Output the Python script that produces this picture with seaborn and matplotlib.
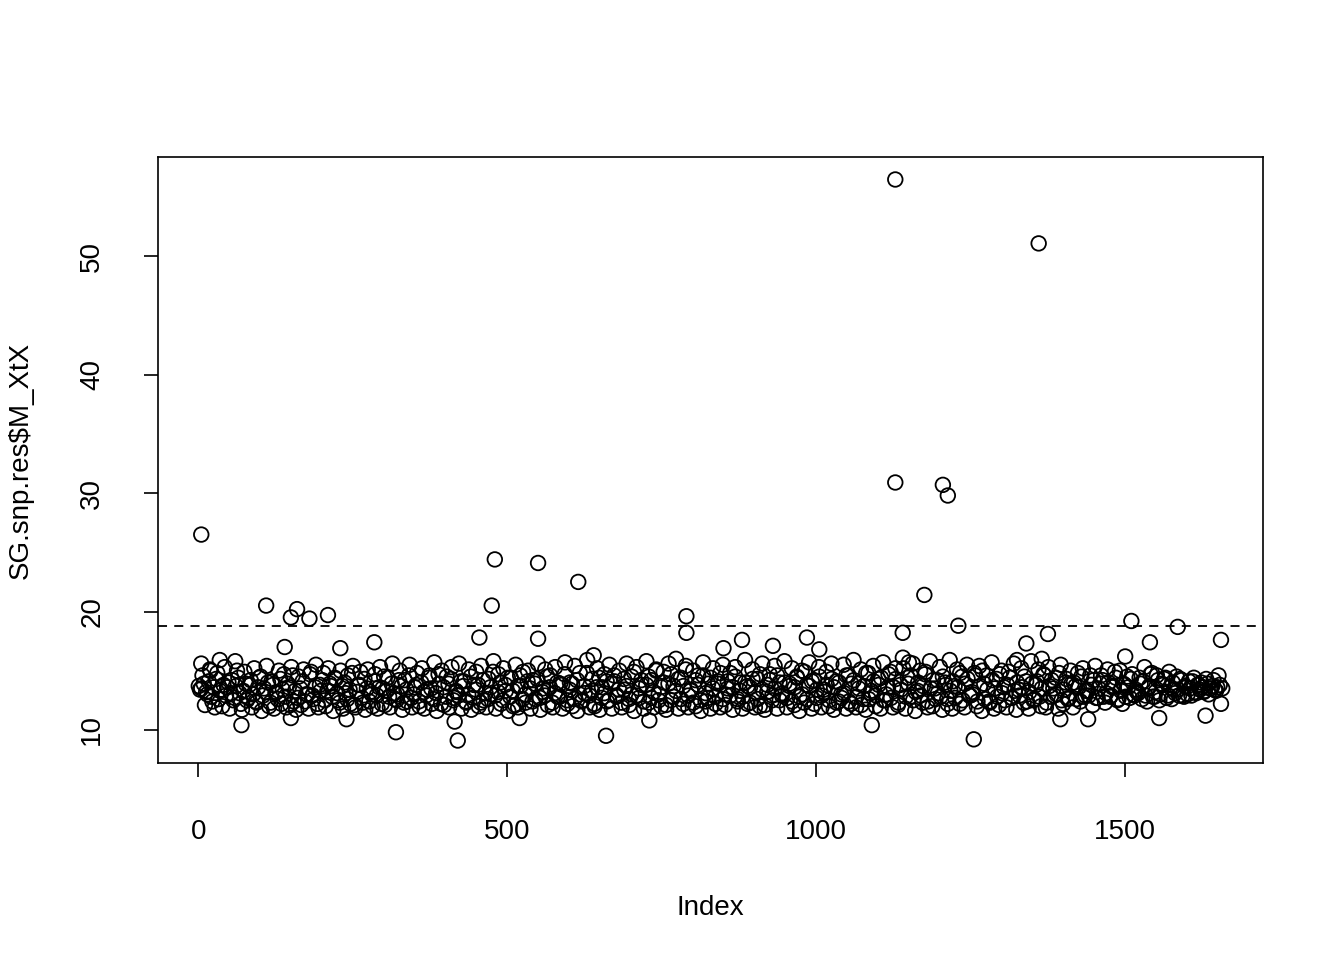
import numpy as np
import pandas as pd
import matplotlib
matplotlib.use("Agg")
import matplotlib.pyplot as plt
import seaborn as sns

# notable points
out_idx = [5,5,110,160,150,180,210,70,320,420,480,475,550,615,660,790,790,1128,1128,1360,1205,1213,1175,1230,1140,1255,1090,1510,1585,1655,1375,1340,550,455,285,140,230,985,1005,880,930,1540,1500,730,1440,1555,1395,1630,240,415,150,520,20,35,60,640,850,1150,1325,1365]
out_val = [26.5,15.6,20.5,20.2,19.5,19.4,19.7,10.4,9.8,9.1,24.4,20.5,24.1,22.5,9.5,19.6,18.2,56.5,30.9,51.1,30.7,29.8,21.4,18.8,18.2,9.2,10.4,19.2,18.7,17.6,18.1,17.3,17.7,17.8,17.4,17.0,16.9,17.8,16.8,17.6,17.1,17.4,16.2,10.8,10.9,11.0,10.9,11.2,10.9,10.7,11.0,11.0,15.0,15.9,15.8,16.3,16.9,15.7,15.9,16.0]

# dense band (values read approximately along the index)
band = [
13.7,13.5,13.9,13.2,14.1,12.8,13.6,14.3,12.6,13.4,13.8,12.9,14.0,13.1,12.5,13.7,14.4,12.2,13.3,13.9,
12.7,14.2,13.0,12.4,13.6,14.5,12.9,13.2,14.0,12.3,13.8,13.1,12.6,14.3,13.4,12.8,13.9,12.1,14.6,13.3,
12.7,13.5,14.1,12.4,13.0,14.7,12.9,13.6,12.2,13.8,14.2,12.5,13.3,13.9,12.8,14.4,13.1,12.3,13.7,14.0,
12.6,13.4,14.8,12.1,13.2,13.8,12.7,14.3,13.5,12.4,13.0,14.1,12.9,13.6,12.2,14.5,13.3,12.8,13.9,13.1,
12.5,14.2,13.7,12.3,13.4,14.6,12.7,13.0,13.8,12.4,14.0,13.2,12.9,14.4,13.5,12.6,13.1,14.7,12.2,13.6,
12.8,13.9,14.3,12.5,13.3,12.9,14.1,13.7,12.4,13.0,14.5,12.7,13.4,13.8,12.3,14.2,13.1,12.6,13.6,14.9,
12.9,13.2,14.0,12.5,13.8,14.4,12.8,13.3,12.1,13.7,14.6,12.6,13.0,14.1,13.5,12.4,13.9,14.3,12.7,13.2,
12.9,14.5,13.6,12.3,13.1,14.0,12.8,13.8,14.7,12.5,13.4,13.9,12.6,14.2,13.0,12.4,13.7,14.8,12.9,13.3,
12.2,13.6,14.4,12.7,13.1,14.1,12.5,13.9,14.6,12.8,13.4,12.3,14.3,13.7,12.6,13.0,14.9,12.9,13.5,14.2,
12.4,13.8,14.5,12.7,13.2,15.0,12.5,13.6,14.0,12.1,13.9,14.7,12.8,13.3,14.3,12.6,13.7,15.1,12.9,13.4,
12.3,14.2,13.8,12.5,14.6,13.1,12.7,14.4,13.5,12.2,13.9,14.8,12.6,13.0,14.1,12.9,13.6,14.5,12.4,13.3,
12.8,14.0,13.7,12.3,14.3,13.2,12.6,14.7,13.4,12.1,13.8,14.2,12.9,13.5,14.6,12.5,13.1,14.0,12.7,13.9,
12.4,13.6,14.4,12.8,13.0,14.9,12.6,13.7,14.1,12.2,13.4,14.5,12.9,13.2,13.8,12.5,14.3,13.6,12.3,14.0,
12.7,13.1,14.6,12.4,13.9,14.2,12.8,13.5,12.1,13.7,14.8,12.6,13.3,14.1,12.9,13.8,14.4,12.5,13.0,14.7,
12.7,13.6,14.3,12.3,13.4,15.2,12.8,13.9,14.6,12.5,13.2,14.0,12.9,13.7,14.9,12.4,13.5,14.2,12.6,13.1,
12.8,14.5,13.8,12.2,13.3,14.1,12.7,13.6,14.8,12.5,13.9,14.3,12.9,13.0,14.6,12.4,13.7,15.0,12.6,13.4,
12.3,14.2,13.5,12.8,14.7,13.1,12.5,13.8,14.4,12.7,13.3,14.0,12.9,13.6,14.5,12.4,13.2,13.9,12.6,14.1,
12.8,13.5,14.6,12.3,13.7,14.2,12.9,13.0,14.8,12.5,13.4,14.3,12.7,13.9,14.0,12.6,13.6,14.5,12.8,13.3,
12.9,13.8,14.2,12.7,13.5,14.6,12.8,13.1,14.0,12.9,13.7,14.4,12.6,13.3,13.9,12.8,13.6,14.3,13.0,13.4,
13.1,13.9,14.1,12.9,13.5,14.7,12.8,13.2,14.2,13.0,13.8,14.4,12.9,13.6,14.0,13.1,13.4,14.3,12.9,13.7,
13.0,13.5,14.1,13.2,13.8,13.4,13.6,13.3,13.9,13.5,13.7,13.4,13.6,13.8,13.5,
]
# second pass of the band, interleaved between the first
band2 = [
13.4,14.6,12.1,13.0,15.1,12.4,11.9,14.8,13.3,12.0,15.3,13.6,11.8,14.2,12.7,15.0,13.1,11.7,14.9,12.5,
13.8,11.9,15.2,12.3,14.4,11.6,13.5,15.4,12.0,14.1,11.8,13.2,15.0,12.2,14.7,11.9,13.6,15.3,12.4,11.7,
14.5,12.1,15.1,13.0,11.8,14.9,12.6,15.5,11.9,13.3,14.8,12.0,15.2,13.7,11.6,14.3,12.5,15.0,11.8,13.1,
14.6,12.2,15.4,11.9,13.8,14.9,12.3,11.7,15.1,13.2,12.0,14.7,11.8,15.3,13.5,12.1,14.4,11.9,15.6,12.6,
13.0,15.0,11.7,14.2,12.4,15.5,11.9,13.6,14.8,12.0,15.2,11.8,13.4,14.6,12.2,15.7,11.6,13.9,15.0,12.1,
14.5,11.9,15.3,12.7,13.2,15.6,11.8,14.1,12.3,15.1,11.7,13.8,14.9,12.0,15.4,12.5,11.9,14.3,13.0,15.8,
11.8,14.7,12.2,15.2,13.3,11.6,14.4,12.0,15.5,11.9,13.7,14.9,12.3,15.0,11.8,14.2,12.6,15.6,11.7,13.5,
15.1,12.1,14.6,11.9,15.3,12.8,13.9,11.8,15.7,12.2,14.0,12.0,15.4,11.6,14.8,12.5,13.1,15.9,11.9,14.3,
12.0,15.2,11.7,13.6,14.7,12.4,15.5,11.8,14.1,12.9,15.0,11.9,13.4,15.6,12.1,14.5,11.6,15.3,12.7,13.8,
11.8,15.8,12.3,14.2,11.9,15.1,13.0,12.0,14.9,11.7,15.6,12.5,13.7,16.0,11.8,14.4,12.2,15.4,11.9,13.3,
15.0,12.0,14.6,11.6,15.7,12.4,13.9,11.8,15.2,12.8,14.1,11.9,15.5,12.1,13.5,14.8,11.7,15.3,12.6,14.0,
11.8,15.9,12.2,13.6,15.1,11.9,14.3,12.0,15.6,11.7,13.2,14.7,12.5,15.4,11.8,14.0,12.9,15.8,11.9,13.7,
15.2,12.1,14.5,11.6,15.0,12.3,13.8,15.7,11.8,14.2,12.7,15.3,11.9,13.4,14.9,12.0,15.6,11.7,14.1,12.4,
13.0,15.5,11.8,14.6,12.2,15.9,11.9,13.9,15.1,12.6,11.7,14.8,13.1,15.4,12.0,14.3,11.8,15.7,12.5,13.6,
14.9,11.9,15.2,12.1,13.8,16.1,11.8,14.4,12.8,15.6,11.6,13.3,15.0,12.3,14.7,11.9,15.8,12.0,13.5,14.2,
15.3,11.7,14.0,12.6,15.9,11.8,13.7,15.1,12.2,14.5,11.9,15.5,12.9,13.2,14.8,12.0,15.4,11.6,13.9,14.6,
12.4,15.7,11.8,14.3,12.1,15.0,13.6,11.9,14.9,12.7,15.6,11.7,13.4,15.2,12.3,14.1,11.8,15.8,12.5,13.8,
15.1,12.0,14.7,11.9,15.3,12.8,13.5,14.4,11.8,15.5,12.2,14.0,12.6,15.0,11.9,13.7,14.8,12.4,15.2,12.9,
13.3,14.6,12.1,15.4,12.7,13.9,14.2,12.3,15.1,12.8,13.6,14.9,12.5,15.0,12.2,13.8,14.5,12.7,14.7,12.9,
13.2,14.4,12.6,15.3,12.4,13.7,14.8,12.8,14.6,12.5,13.9,14.3,12.7,14.9,12.6,13.4,14.5,12.9,14.2,12.8,
13.6,14.1,12.9,14.4,13.1,13.8,14.0,13.2,14.3,13.0,13.5,14.2,13.3,14.6,12.2,
]

df = pd.DataFrame({
    "Index": np.concatenate([np.linspace(1, 1657, len(band)),
                             np.linspace(3, 1655, len(band2)), out_idx]),
    "val": np.concatenate([band, band2, out_val]),
})

sns.set_style("white")
plt.rcParams['font.family'] = ['Liberation Sans', 'DejaVu Sans']
plt.rcParams['text.color'] = 'black'
plt.rcParams['axes.labelcolor'] = 'black'
plt.rcParams['xtick.color'] = 'black'
plt.rcParams['ytick.color'] = 'black'
fig = plt.figure(figsize=(13.44, 9.6), dpi=100)
ax = fig.add_axes([158/1344, 1-763/960, (1263-158)/1344, (763-157)/960])
sns.scatterplot(data=df, x="Index", y="val", ax=ax, s=110, facecolor="none",
                edgecolor="black", linewidth=1.3, legend=False)
ax.axhline(18.8, color="black", linestyle=(0, (5, 4)), linewidth=1.3)
ax.set_xlim(-65, 1723)
ax.set_ylim(7.2, 58.4)
ax.set_xticks([0, 500, 1000, 1500])
ax.set_yticks([10, 20, 30, 40, 50])
for s in ax.spines.values():
    s.set_color("black"); s.set_linewidth(1.2)
ax.tick_params(axis="both", direction="out", length=10, width=1.2, labelsize=20,
               labelcolor="black", color="black", left=True, bottom=True, pad=30)
ax.tick_params(axis="y", pad=28)
for t in ax.get_yticklabels():
    t.set_rotation(90); t.set_va("center")
ax.set_xlabel("Index", fontsize=20, labelpad=36)
ax.set_ylabel("SG.snp.res\\$M_XtX", fontsize=20, labelpad=33)
fig.savefig("out.png", dpi=100, facecolor="white")
